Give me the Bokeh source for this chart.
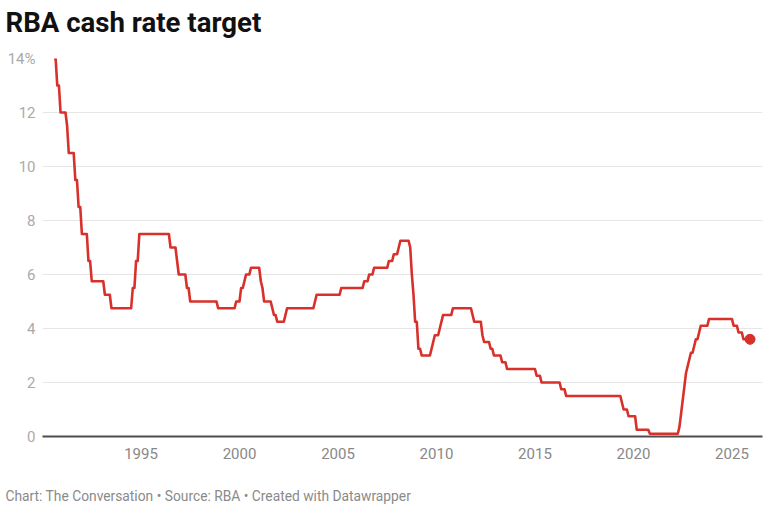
from bokeh.plotting import figure
from bokeh.models import Range1d, FixedTicker, Title, ColumnDataSource
from bokeh.embed import file_html
from bokeh.resources import INLINE

# RBA cash rate target: month of change and new target (%)
change_months = [
    "1990-08", "1990-10", "1990-12", "1991-04", "1991-05", "1991-09", "1991-11",
    "1992-01", "1992-05", "1992-07", "1993-03", "1993-07", "1994-08", "1994-10",
    "1994-12", "1996-07", "1996-11", "1996-12", "1997-05", "1997-07", "1998-12",
    "1999-11", "2000-02", "2000-04", "2000-05", "2000-08", "2001-02", "2001-03",
    "2001-04", "2001-09", "2001-10", "2001-12", "2002-05", "2002-06", "2003-11",
    "2003-12", "2005-03", "2006-05", "2006-08", "2006-11", "2007-08", "2007-11",
    "2008-02", "2008-03", "2008-09", "2008-10", "2008-11", "2008-12", "2009-02",
    "2009-04", "2009-10", "2009-11", "2009-12", "2010-03", "2010-04", "2010-05",
    "2010-11", "2011-11", "2011-12", "2012-05", "2012-06", "2012-10", "2012-12",
    "2013-05", "2013-08", "2015-02", "2015-05", "2016-05", "2016-08", "2019-06",
    "2019-07", "2019-10", "2020-03", "2020-11", "2022-05", "2022-06", "2022-07",
    "2022-08", "2022-09", "2022-10", "2022-11", "2022-12", "2023-02", "2023-03",
    "2023-05", "2023-06", "2023-11", "2025-02", "2025-05", "2025-08",
]
change_rates = [
    14.0, 13.0, 12.0, 11.5, 10.5, 9.5, 8.5,
    7.5, 6.5, 5.75, 5.25, 4.75, 5.5, 6.5,
    7.5, 7.0, 6.5, 6.0, 5.5, 5.0, 4.75,
    5.0, 5.5, 5.75, 6.0, 6.25, 5.75, 5.5,
    5.0, 4.75, 4.5, 4.25, 4.5, 4.75, 5.0,
    5.25, 5.5, 5.75, 6.0, 6.25, 6.5, 6.75,
    7.0, 7.25, 7.0, 6.0, 5.25, 4.25, 3.25,
    3.0, 3.25, 3.5, 3.75, 4.0, 4.25, 4.5,
    4.75, 4.5, 4.25, 3.75, 3.5, 3.25, 3.0,
    2.75, 2.5, 2.25, 2.0, 1.75, 1.5, 1.25,
    1.0, 0.75, 0.25, 0.1, 0.35, 0.85, 1.35,
    1.85, 2.35, 2.6, 2.85, 3.1, 3.35, 3.6,
    3.85, 4.1, 4.35, 4.1, 3.85, 3.6,
]
last_month = "2025-12"

y_ticks = [0, 2, 4, 6, 8, 10, 12, 14]
x_ticks = [1995, 2000, 2005, 2010, 2015, 2020, 2025]

# monthly series: target in effect each month
def ym(s):
    y, m = s.split("-")
    return int(y), int(m)

changes = [(ym(d), r) for d, r in zip(change_months, change_rates)]
xs, ys = [], []
y0, m0 = changes[0][0]
y1, m1 = ym(last_month)
y, m = y0, m0
while (y, m) <= (y1, m1):
    rate = None
    for (cy, cm), r in changes:
        if (cy, cm) <= (y, m):
            rate = r
    xs.append(y + (m - 1) / 12.0)
    ys.append(rate)
    m += 1
    if m > 12:
        m = 1
        y += 1

RED = "#d8302a"

p = figure(width=768, height=510, output_backend="svg", toolbar_location=None,
           x_range=Range1d(1990.0, 2026.55), y_range=Range1d(0, 14),
           min_border_left=42, min_border_right=6, min_border_top=58,
           min_border_bottom=74)
p.outline_line_color = None
p.background_fill_color = "white"
p.border_fill_color = "white"

p.title.text = "RBA cash rate target"
p.title.text_font = "Roboto"
p.title.text_font_size = "27.6px"
p.title.text_font_style = "bold"
p.title.text_color = "#111111"
p.title.align = "left"
p.title.offset = -37
p.title.standoff = 0

# blank spacer between title and plot area
p.add_layout(Title(text=" ", text_font_size="16px", standoff=1), "above")

src = ColumnDataSource(dict(x=xs, y=ys))
p.line("x", "y", source=src, line_color=RED, line_width=2.6, line_join="round")
p.scatter([xs[-1]], [ys[-1]], size=10, color=RED)

# y axis
ya = p.yaxis[0]
ya.ticker = FixedTicker(ticks=y_ticks)
ya.major_label_overrides = {14: "14%"}
ya.axis_line_color = None
ya.major_tick_line_color = None
ya.minor_tick_line_color = None
ya.major_tick_out = 0
ya.major_label_standoff = 7
ya.major_label_text_font = "Roboto"
ya.major_label_text_font_size = "15px"
ya.major_label_text_color = "#aaaaaa"

# x axis
xa = p.xaxis[0]
xa.ticker = FixedTicker(ticks=x_ticks)
xa.axis_line_color = "#4d4d4d"
xa.axis_line_width = 2
xa.major_tick_line_color = None
xa.minor_tick_line_color = None
xa.major_tick_out = 0
xa.major_label_standoff = 11
xa.major_label_text_font = "Roboto"
xa.major_label_text_font_size = "15px"
xa.major_label_text_color = "#888888"

p.xgrid.grid_line_color = None
p.ygrid.grid_line_color = "#e6e6e6"
p.ygrid.grid_line_width = 1
p.ygrid.ticker = FixedTicker(ticks=y_ticks)

# blank spacer between axis labels and footer
p.add_layout(Title(text=" ", text_font_size="16px", standoff=2), "below")
footer = Title(text="Chart: The Conversation \u2022 Source: RBA \u2022 Created with Datawrapper",
               text_font="Roboto", text_font_size="13.8px", text_font_style="normal",
               text_color="#8a8a8a", align="left", offset=-37, standoff=6)
p.add_layout(footer, "below")

open("out.html", "w").write(file_html(p, INLINE))
